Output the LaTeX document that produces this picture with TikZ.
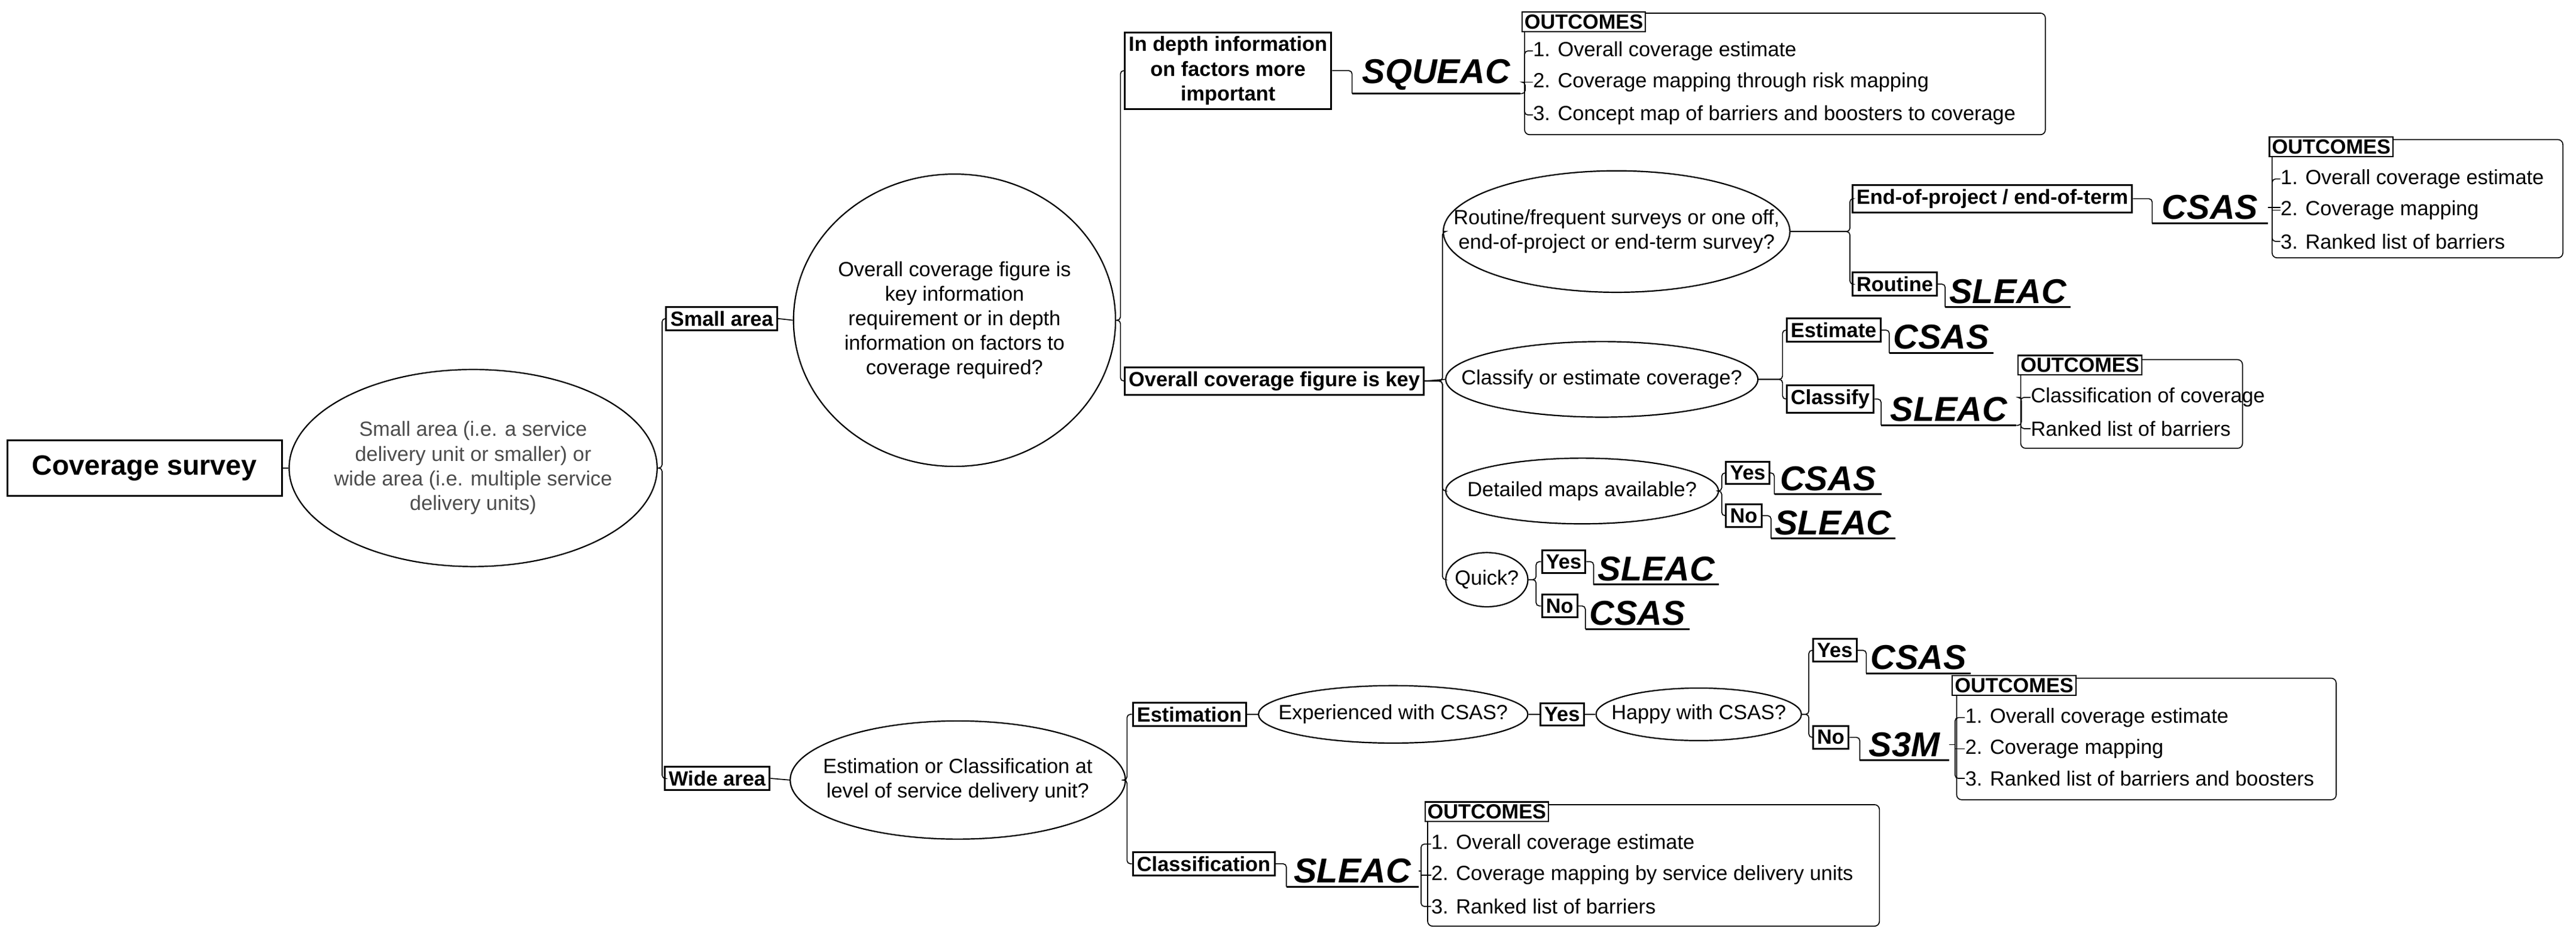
\documentclass[tikz,border=0pt]{standalone}
\usepackage{fontspec}
\setmainfont{Liberation Sans}
\usetikzlibrary{shapes.geometric,calc}
\begin{document}
\begin{tikzpicture}[x=1pt,y=-1pt,
 box/.style={draw,line width=1.1pt,font=\bfseries\fontsize{12.5}{14}\selectfont,inner sep=2.5pt,anchor=west,align=center},
 ell/.style={draw,ellipse,line width=0.8pt,inner sep=0pt},
 etext/.style={align=center,font=\fontsize{12.5}{15}\selectfont},
 lbl/.style={font=\bfseries\itshape\fontsize{21}{22}\selectfont,inner sep=2pt},
 uline/.style={line width=1.1pt},
 con/.style={line width=0.6pt,rounded corners=2pt},
 item/.style={anchor=west,inner sep=0pt,font=\fontsize{12.5}{14}\selectfont},
 panel/.style={draw,line width=0.6pt,rounded corners=3pt,fill=white},
 obox/.style={draw,line width=0.8pt,fill=white,font=\bfseries\fontsize{12.5}{14}\selectfont,inner sep=1.5pt,anchor=north west}]
\useasboundingbox (0,0) rectangle (1568,571);
% root
\node[draw,line width=1.1pt,font=\bfseries\fontsize{17}{20}\selectfont,minimum width=167pt,minimum height=34pt] (cs) at (88,285) {Coverage survey};
\node[ell,minimum width=224pt,minimum height=120pt] (e1) at (288,285) {};
\node[etext,text=black!70] at (e1) {Small area (i.e. a service\\delivery unit or smaller) or\\wide area (i.e. multiple service\\delivery units)};
\draw[con] (cs.east) -- (e1.west);
\coordinate (b1) at (403,0);
\node[box] (sa) at (405,194) {Small area};
\node[box] (wa) at (404,474) {Wide area};
\draw[con] (e1.east) -- (e1.east -| b1) |- (sa.west);
\draw[con] (e1.east) -- (e1.east -| b1) |- (wa.west);
% small area
\node[ell,minimum width=196pt,minimum height=178pt] (e2) at (581,195) {};
\node[etext] at (e2) {Overall coverage figure is\\key information\\requirement or in depth\\information on factors to\\coverage required?};
\draw[con] (sa.east) -- (e2.west);
\coordinate (b2) at (682,0);
\node[box,font=\bfseries\fontsize{12.5}{15}\selectfont] (ind) at (684,43) {In depth information\\on factors more\\important};
\node[box] (key) at (684,232) {Overall coverage figure is key};
\draw[con] (e2.east) -- (e2.east -| b2) |- (ind.west);
\draw[con] (e2.east) -- (e2.east -| b2) |- (key.west);
% SQUEAC
\node[lbl,anchor=south west,minimum width=102pt] (sq) at (823,57) {SQUEAC};
\draw[con] (ind.east) -| (sq.south west);
\draw[uline] (sq.south west) -- (sq.south east);
\draw[panel] (928,8) rectangle (1245,82);
\node[obox] (o1) at (926,7) {OUTCOMES};
\node[item] (i11) at (933,31) {1. Overall coverage estimate};
\node[item] (i12) at (933,50) {2. Coverage mapping through risk mapping};
\node[item] (i13) at (933,70) {3. Concept map of barriers and boosters to coverage};
\draw[con] (i11.west) -- ++(-5,0) -- ($(i13.west)+(-5,0)$) -- (i13.west);
\draw[con] (i12.west) -- ++(-5,0);
\draw[con] (sq.south east) -- ++(3,0) |- ($(i12.west)+(-5,0)$);
% key branch
\coordinate (b3) at (878,0);
\node[ell,minimum width=211pt,minimum height=74pt] (e3) at (984,141) {};
\node[etext] at (e3) {Routine/frequent surveys or one off,\\end-of-project or end-term survey?};
\node[ell,minimum width=190pt,minimum height=46pt] (e4) at (975,231) {};
\node[etext] at (e4) {Classify or estimate coverage?};
\node[ell,minimum width=166pt,minimum height=40pt] (e5) at (963,299) {};
\node[etext] at (e5) {Detailed maps available?};
\node[ell,minimum width=50pt,minimum height=33pt] (e6) at (905,353) {};
\node[etext] at (e6) {Quick?};
\draw[con] (key.east) -- (key.east -| b3) |- (e3.west);
\draw[con] (key.east) -- (e4.west);
\draw[con] (key.east) -- (key.east -| b3) |- (e5.west);
\draw[con] (key.east) -- (key.east -| b3) |- (e6.west);
% e3
\coordinate (b4) at (1126,0);
\node[box] (eop) at (1127,121) {End-of-project / end-of-term};
\node[box] (rou) at (1127,173) {Routine};
\draw[con] (e3.east) -- (e3.east -| b4) |- (eop.west);
\draw[con] (e3.east) -- (e3.east -| b4) |- (rou.west);
\node[lbl,anchor=south west,minimum width=70pt] (cs1) at (1310,136) {CSAS};
\draw[con] (eop.east) -| (cs1.south west);
\draw[uline] (cs1.south west) -- (cs1.south east);
\draw[panel] (1383,85) rectangle (1560,157);
\node[obox] (o2) at (1381,83) {OUTCOMES};
\node[item] (i21) at (1388,109) {1. Overall coverage estimate};
\node[item] (i22) at (1388,128) {2. Coverage mapping};
\node[item] (i23) at (1388,147) {3. Ranked list of barriers};
\draw[con] (i21.west) -- ++(-5,0) -- ($(i23.west)+(-5,0)$) -- (i23.west);
\draw[con] (i22.west) -- ++(-5,0);
\draw[con] (cs1.east) -- (cs1.east -| i21.west) ++(-5,0);
\node[lbl,anchor=south west,minimum width=76pt] (sl1) at (1184,187) {SLEAC};
\draw[con] (rou.east) -| (sl1.south west);
\draw[uline] (sl1.south west) -- (sl1.south east);
% e4
\coordinate (b5) at (1085,0);
\node[box] (est) at (1087,201) {Estimate};
\node[box] (cla) at (1087,243) {Classify};
\draw[con] (e4.east) -- (e4.east -| b5) |- (est.west);
\draw[con] (e4.east) -- (e4.east -| b5) |- (cla.west);
\node[lbl,anchor=south west,minimum width=63pt] (cs2) at (1150,215) {CSAS};
\draw[con] (est.east) -| (cs2.south west);
\draw[uline] (cs2.south west) -- (cs2.south east);
\node[lbl,anchor=south west,minimum width=82pt] (sl2) at (1145,259) {SLEAC};
\draw[con] (cla.east) -| (sl2.south west);
\draw[uline] (sl2.south west) -- (sl2.south east);
\draw[panel] (1230,219) rectangle (1365,273);
\node[obox] (o3) at (1228,216) {OUTCOMES};
\node[item] (i31) at (1236,242) {Classification of coverage};
\node[item] (i32) at (1236,261) {Ranked list of barriers};
\draw[con] (i31.west) -- ++(-6,0) -- ($(i32.west)+(-6,0)$) -- (i32.west);
\draw[con] (sl2.south east) -- ++(3,0) |- ($(i31.west)+(-6,0)$);
% e5
\coordinate (b6) at (1048,0);
\node[box] (y5) at (1050,288) {Yes};
\node[box] (n5) at (1050,314) {No};
\draw[con] (e5.east) -- (e5.east -| b6) |- (y5.west);
\draw[con] (e5.east) -- (e5.east -| b6) |- (n5.west);
\node[lbl,anchor=south west,minimum width=65pt] (cs3) at (1080,301) {CSAS};
\draw[con] (y5.east) -| (cs3.south west);
\draw[uline] (cs3.south west) -- (cs3.south east);
\node[lbl,anchor=south west,minimum width=75pt] (sl3) at (1078,328) {SLEAC};
\draw[con] (n5.east) -| (sl3.south west);
\draw[uline] (sl3.south west) -- (sl3.south east);
% e6
\coordinate (b7) at (935,0);
\node[box] (y6) at (938,342) {Yes};
\node[box] (n6) at (938,369) {No};
\draw[con] (e6.east) -- (e6.east -| b7) |- (y6.west);
\draw[con] (e6.east) -- (e6.east -| b7) |- (n6.west);
\node[lbl,anchor=south west,minimum width=76pt] (sl4) at (970,356) {SLEAC};
\draw[con] (y6.east) -| (sl4.south west);
\draw[uline] (sl4.south west) -- (sl4.south east);
\node[lbl,anchor=south west,minimum width=63pt] (cs4) at (965,383) {CSAS};
\draw[con] (n6.east) -| (cs4.south west);
\draw[uline] (cs4.south west) -- (cs4.south east);
% wide area
\node[ell,minimum width=204pt,minimum height=72pt] (e7) at (583,475) {};
\node[etext] at (e7) {Estimation or Classification at\\level of service delivery unit?};
\draw[con] (wa.east) -- (e7.west);
\coordinate (b8) at (686,0);
\node[box] (esn) at (689,435) {Estimation};
\node[box] (cln) at (689,526) {Classification};
\draw[con] (e7.east) -- (e7.east -| b8) |- (esn.west);
\draw[con] (e7.east) -- (e7.east -| b8) |- (cln.west);
\node[ell,minimum width=164pt,minimum height=35pt] (e8) at (848,435) {};
\node[etext] at (e8) {Experienced with CSAS?};
\draw[con] (esn.east) -- (e8.west);
\node[box] (y8) at (937,435) {Yes};
\draw[con] (e8.east) -- (y8.west);
\node[ell,minimum width=125pt,minimum height=32pt] (e9) at (1034,435) {};
\node[etext] at (e9) {Happy with CSAS?};
\draw[con] (y8.east) -- (e9.west);
\coordinate (b9) at (1101,0);
\node[box] (y9) at (1103,396) {Yes};
\node[box] (n9) at (1103,449) {No};
\draw[con] (e9.east) -- (e9.east -| b9) |- (y9.west);
\draw[con] (e9.east) -- (e9.east -| b9) |- (n9.west);
\node[lbl,anchor=south west,minimum width=63pt] (cs5) at (1136,410) {CSAS};
\draw[con] (y9.east) -| (cs5.south west);
\draw[uline] (cs5.south west) -- (cs5.south east);
\node[lbl,anchor=south west,minimum width=54pt] (s3) at (1132,463) {S3M};
\draw[con] (n9.east) -| (s3.south west);
\draw[uline] (s3.south west) -- (s3.south east);
\draw[panel] (1191,413) rectangle (1422,487);
\node[obox] (o4) at (1188,411) {OUTCOMES};
\node[item] (i41) at (1196,437) {1. Overall coverage estimate};
\node[item] (i42) at (1196,456) {2. Coverage mapping};
\node[item] (i43) at (1196,474) {3. Ranked list of barriers and boosters};
\draw[con] (i41.west) -- ++(-6,0) -- ($(i43.west)+(-6,0)$) -- (i43.west);
\draw[con] (i42.west) -- ++(-6,0);
\draw[con] (s3.east) -- ($(s3.east -| i41.west)+(-6,0)$);
\node[lbl,anchor=south west,minimum width=80pt] (sl5) at (783,540) {SLEAC};
\draw[con] (cln.east) -| (sl5.south west);
\draw[uline] (sl5.south west) -- (sl5.south east);
\draw[panel] (869,490) rectangle (1144,564);
\node[obox] (o5) at (867,488) {OUTCOMES};
\node[item] (i51) at (871,514) {1. Overall coverage estimate};
\node[item] (i52) at (871,533) {2. Coverage mapping by service delivery units};
\node[item] (i53) at (871,552) {3. Ranked list of barriers};
\draw[con] (i51.west) -- ++(-6,0) -- ($(i53.west)+(-6,0)$) -- (i53.west);
\draw[con] (i52.west) -- ++(-6,0);
\draw[con] (sl5.east) -- ($(sl5.east -| i51.west)+(-6,0)$);
\end{tikzpicture}
\end{document}
